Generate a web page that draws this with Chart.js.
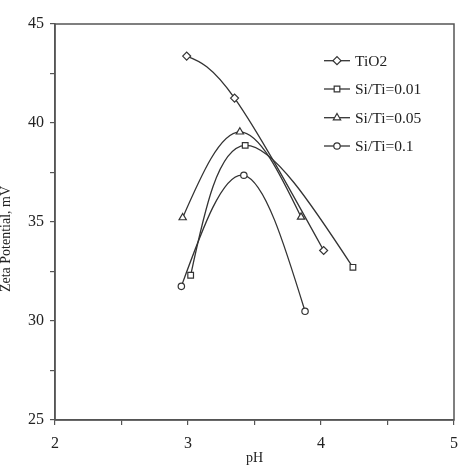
<!DOCTYPE html>
<html><head><meta charset="utf-8">
<script src="https://cdn.jsdelivr.net/npm/chart.js@4"></script>
<style>html,body{margin:0;padding:0;background:#fff}#wrap{width:474px;height:474px}</style>
</head><body><div id="wrap"><canvas id="c" width="474" height="474"></canvas></div>
<script>
const seriesNames = ["TiO2", "Si/Ti=0.01", "Si/Ti=0.05", "Si/Ti=0.1"];
const tio2X = [2.99, 3.35, 4.02];
const tio2Y = [43.38, 41.26, 33.56];
const si001X = [3.02, 3.43, 4.24];
const si001Y = [32.31, 38.87, 32.71];
const si005X = [2.96, 3.39, 3.85];
const si005Y = [35.22, 39.55, 35.25];
const si01X = [2.95, 3.42, 3.88];
const si01Y = [31.75, 37.36, 30.49];
const xTickLabels = [2, 3, 4, 5];
const yTickLabels = [25, 30, 35, 40, 45];
const xTitle = "pH";
const yTitle = "Zeta Potential, mV";

const ink = '#333';
const styles = ['rectRot', 'rect', 'triangle', 'circle'];
const radii = [4, 4, 4.2, 3.2];
const xs = [tio2X, si001X, si005X, si01X];
const ys = [tio2Y, si001Y, si005Y, si01Y];
const datasets = seriesNames.map((n, i) => ({
  label: n,
  data: xs[i].map((x, j) => ({x: x, y: ys[i][j]})),
  borderColor: ink, borderWidth: 1.3,
  pointStyle: styles[i], pointRadius: radii[i], pointBorderWidth: 1.2,
  pointBackgroundColor: '#fff', pointBorderColor: ink,
  tension: 0.4, capBezierPoints: false, fill: false, showLine: true
}));

const serif = "'Liberation Serif', 'DejaVu Serif', serif";

// Excel-like smoothing applied to the library's own point elements
const smooth = {
  id: 'smooth',
  beforeDatasetsDraw(chart) {
    chart.data.datasets.forEach((ds, i) => {
      const meta = chart.getDatasetMeta(i);
      const line = meta.dataset;
      line.updateControlPoints(chart.chartArea);
      const pts = meta.data;
      const n = pts.length;
      for (let k = 1; k < n - 1; k++) {
        const p = pts[k], prev = pts[k - 1], next = pts[k + 1];
        const dx = (next.x - prev.x) / 6, dy = (next.y - prev.y) / 6;
        p.cp1x = p.x - dx; p.cp1y = p.y - dy;
        p.cp2x = p.x + dx; p.cp2y = p.y + dy;
      }
      // natural-like ends
      const a = pts[0], b = pts[1];
      a.cp2x = a.x + (b.cp1x - a.x) / 2; a.cp2y = a.y + (b.cp1y - a.y) / 2;
      a.cp1x = a.x; a.cp1y = a.y;
      const z = pts[n - 1], y = pts[n - 2];
      z.cp1x = z.x + (y.cp2x - z.x) / 2; z.cp1y = z.y + (y.cp2y - z.y) / 2;
      z.cp2x = z.x; z.cp2y = z.y;
      delete line._path;
    });
  }
};

const frame = {
  id: 'frame',
  afterDraw(chart) {
    const {ctx, chartArea: a} = chart;
    ctx.save();
    ctx.strokeStyle = '#555'; ctx.lineWidth = 1.5;
    ctx.strokeRect(a.left, a.top, a.right - a.left, a.bottom - a.top);
    // y axis title
    ctx.save();
    ctx.translate(6.5, 239);
    ctx.rotate(-Math.PI / 2);
    ctx.font = "14px " + serif; ctx.fillStyle = '#222';
    ctx.textAlign = 'center'; ctx.textBaseline = 'middle';
    ctx.fillText(yTitle, 0, 0);
    ctx.restore();
    // legend
    const lx0 = 324, lx1 = 350, tx = 355, rows = [60.7, 89, 117.7, 146];
    ctx.font = "15.5px " + serif; ctx.textBaseline = 'middle'; ctx.fillStyle = '#222';
    seriesNames.forEach((n, i) => {
      const y = rows[i];
      ctx.strokeStyle = ink; ctx.lineWidth = 1.3;
      ctx.beginPath(); ctx.moveTo(lx0, y); ctx.lineTo(lx1, y); ctx.stroke();
      ctx.fillStyle = '#fff';
      ctx.strokeStyle = ink; ctx.lineWidth = 1.2;
      Chart.helpers.drawPoint(ctx, {pointStyle: styles[i], radius: radii[i], borderWidth: 1.2}, (lx0 + lx1) / 2, y);
      ctx.fillStyle = '#222';
      ctx.fillText(n, tx, y + 1);
    });
    ctx.restore();
  }
};

new Chart(document.getElementById('c'), {
  type: 'scatter',
  data: {datasets},
  plugins: [smooth, frame],
  options: {
    responsive: false, animation: false, devicePixelRatio: 1,
    layout: {padding: {left: 0, top: 24, right: 20, bottom: 0}},
    plugins: {legend: {display: false}, tooltip: {enabled: false}},
    scales: {
      x: {
        type: 'linear', min: 2, max: 5,
        afterFit(s) { s.height = 54; },
        afterBuildTicks(s) { s.ticks = [2, 2.5, 3, 3.5, 4, 4.5, 5].map(v => ({value: v})); },
        ticks: {
          autoSkip: false, maxRotation: 0, padding: 9, color: '#222',
          font: {family: serif, size: 16},
          callback: v => xTickLabels.includes(v) ? String(v) : ''
        },
        grid: {drawOnChartArea: false, drawTicks: true, tickLength: 5, color: '#555', lineWidth: 1.2},
        border: {display: true, color: '#555', width: 1.5},
        title: {display: true, text: xTitle, color: '#222', font: {family: serif, size: 14}, padding: {top: 0, bottom: 7}}
      },
      y: {
        type: 'linear', min: 25, max: 45,
        afterFit(s) { s.width = 55; },
        afterBuildTicks(s) { s.ticks = [25, 27.5, 30, 32.5, 35, 37.5, 40, 42.5, 45].map(v => ({value: v})); },
        ticks: {
          autoSkip: false, padding: 6, color: '#222',
          font: {family: serif, size: 16},
          callback: v => yTickLabels.includes(v) ? String(v) : ''
        },
        grid: {drawOnChartArea: false, drawTicks: true, tickLength: 5, color: '#555', lineWidth: 1.2},
        border: {display: true, color: '#555', width: 1.5},
        title: {display: false}
      }
    }
  }
});
</script></body></html>
